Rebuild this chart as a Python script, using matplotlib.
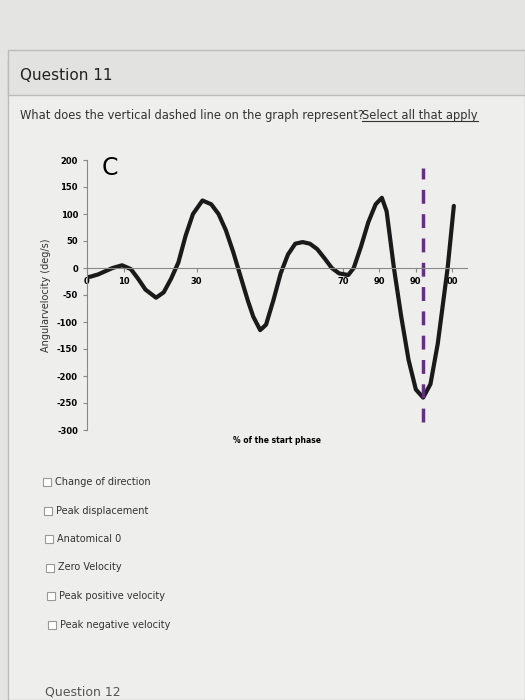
import matplotlib
matplotlib.use("Agg")
import matplotlib.pyplot as plt
from matplotlib.patches import Rectangle

x_pct = [0, 1, 3, 5, 7, 9.6, 12, 14, 16, 18.9, 21, 23, 25, 27, 29, 31.6, 34, 36, 38, 40, 42, 44, 45.5, 47.4, 49, 51, 53, 55, 57, 59, 61, 63, 65, 67, 69, 71.5, 73, 75, 77, 79, 80.7, 82, 84, 86, 88, 90, 92, 94, 96, 98.7, 100.4]
vel = [-17, -16, -12, -6, 0, 5, -2, -20, -40, -55, -45, -20, 10, 60, 100, 125, 118, 100, 70, 30, -15, -60, -90, -115, -105, -60, -10, 25, 45, 48, 45, 35, 18, 0, -10, -13, 0, 40, 85, 118, 130, 105, 0, -90, -170, -225, -240, -215, -140, 0, 115]
yticks = [200, 150, 100, 50, 0, -50, -100, -150, -200, -250, -300]
xticks = [0, 10, 30, 70, 80, 90, 100]
xlabels = ["0", "10", "30", "70", "90", "90", "00"]
options = ["Change of direction", "Peak displacement", "Anatomical 0", "Zero Velocity", "Peak positive velocity", "Peak negative velocity"]
dashed_x = 92

fig = plt.figure(figsize=(5.25, 7), dpi=100)
fig.patch.set_facecolor("#e4e4e2")
W, H = 525, 700
def fx(p): return p / W
def fy(p): return 1 - p / H

fig.patches.append(Rectangle((fx(8), fy(700)), fx(517), 640/H, transform=fig.transFigure,
                             facecolor="#eeeeec", edgecolor="#bbbbbb", lw=1, zorder=0))
fig.patches.append(Rectangle((fx(8), fy(95)), fx(517), 45/H, transform=fig.transFigure,
                             facecolor="#e2e2e0", edgecolor="#bbbbbb", lw=1, zorder=0))
fig.text(fx(20), fy(75), "Question 11", fontsize=11, color="#222222", va="center")
fig.text(fx(20), fy(115), "What does the vertical dashed line on the graph represent?", fontsize=8.3, color="#333333", va="center")
fig.text(fx(362), fy(115), "Select all that apply", fontsize=8.3, color="#333333", va="center")
fig.lines.append(plt.Line2D([fx(362), fx(478)], [fy(121), fy(121)], transform=fig.transFigure, color="#333333", lw=0.8))

ax = fig.add_axes([fx(87), fy(430), fx(380), 270/H])
ax.set_zorder(5)
ax.set_facecolor("none")
ax.plot(x_pct, vel, color="#1a1a1a", lw=3, solid_capstyle="round")
ax.axvline(dashed_x, ymin=0.03, ymax=0.97, color="#6a2c8c", lw=2.5, ls=(0, (4, 3)))
ax.set_xlim(0, 104)
ax.set_ylim(-300, 200)
ax.spines["top"].set_visible(False)
ax.spines["right"].set_visible(False)
ax.spines["bottom"].set_position(("data", 0))
ax.spines["bottom"].set_color("#888888")
ax.spines["left"].set_color("#888888")
ax.set_yticks(yticks)
ax.set_yticklabels([str(t) for t in yticks], fontsize=6, fontweight="bold")
ax.set_xticks(xticks)
ax.set_xticklabels(xlabels, fontsize=6, fontweight="bold")
ax.tick_params(length=3, color="#888888")
ax.set_ylabel("Angularvelocity (deg/s)", fontsize=7, color="#333333")
ax.text(52, -320, "% of the start phase", fontsize=5.5, fontweight="bold", ha="center", va="center")
ax.text(4, 185, "C", fontsize=17, va="center")

for i, opt in enumerate(options):
    y = 482 + i * 28.5
    xo = 43 + i * 1
    fig.patches.append(Rectangle((fx(xo), fy(y + 4)), 8/W, 8/H, transform=fig.transFigure,
                                 facecolor="white", edgecolor="#999999", lw=0.8))
    fig.text(fx(xo + 12), fy(y), opt, fontsize=7, color="#333333", va="center")
fig.text(fx(45), fy(692), "Question 12", fontsize=9, color="#555555", va="center")

fig.savefig("out.png", dpi=100, facecolor=fig.get_facecolor())
